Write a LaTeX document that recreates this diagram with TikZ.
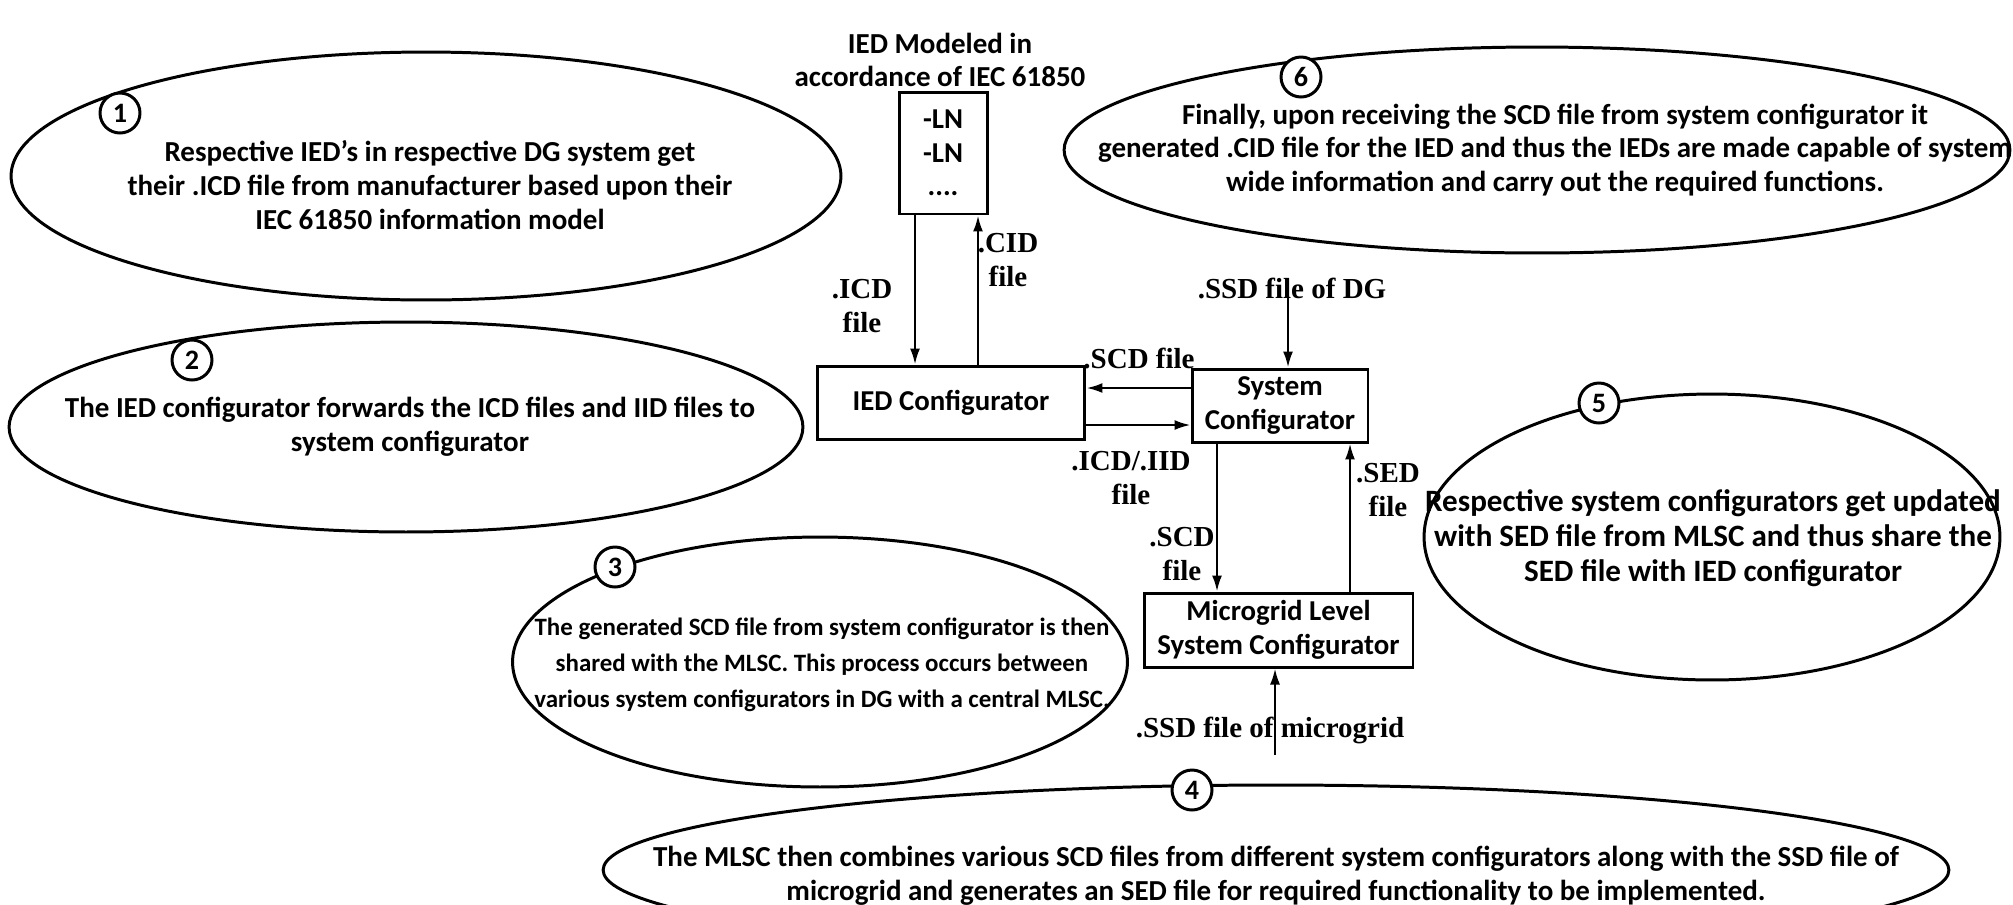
\documentclass[tikz,border=0pt]{standalone}
\usepackage{fontspec}
\setmainfont{Carlito}
\newfontfamily\tnrfont{Liberation Serif}
\usetikzlibrary{arrows.meta,shapes.geometric}

\tikzset{
  bubble/.style={draw, line width=1.7pt, ellipse, inner sep=0pt},
  btxt/.style={align=center, inner sep=0pt, font=\fontsize{16.5}{19.2}\selectfont\bfseries},
  num/.style={draw, circle, line width=1.7pt, fill=white, minimum size=0.8cm, inner sep=0pt, font=\fontsize{16}{18}\selectfont\bfseries},
  blk/.style={draw, line width=1.7pt, fill=white, align=center, inner sep=0pt, font=\fontsize{16.4}{19.2}\selectfont\bfseries},
  flbl/.style={align=center, inner sep=0pt, font=\fontsize{16.5}{19.5}\selectfont\tnrfont\bfseries},
  arr/.style={line width=1.3pt, -{Latex[length=0.32cm,width=0.2cm]}}
}

\begin{document}
\begin{tikzpicture}[x=0.02cm, y=-0.02cm]
\useasboundingbox (0,0) rectangle (2013,904);
\clip (0,0) rectangle (2013,904);

\node[bubble, minimum width=16.6cm, minimum height=4.96cm] (e1) at (426,176) {};
\node[bubble, minimum width=15.88cm, minimum height=4.2cm] (e2) at (406,427) {};
\node[bubble, minimum width=12.3cm, minimum height=5cm] (e3) at (820,662) {};
\node[bubble, minimum width=26.92cm, minimum height=3.4cm] (e4) at (1276,870) {};
\node[bubble, minimum width=11.52cm, minimum height=5.72cm] (e5) at (1712,537) {};
\node[bubble, minimum width=18.92cm, minimum height=4.12cm] (e6) at (1537,150) {};

\node[btxt] (t1) at (430,185) {Respective IED’s in respective DG system get\\their .ICD file from manufacturer based upon their\\IEC 61850 information model};
\node[btxt] (t2) at (410,427) {The IED configurator forwards the ICD files and IID files to\\system configurator};
\node[btxt, font=\fontsize{14.2}{20.5}\selectfont\bfseries] (t3) at (822,665) {The generated SCD file from system configurator is then\\shared with the MLSC. This process occurs between\\various system configurators in DG with a central MLSC.};
\node[btxt] (t4) at (1276,876) {The MLSC then combines various SCD files from different system configurators along with the SSD file of\\microgrid and generates an SED file for required functionality to be implemented.};
\node[btxt, font=\fontsize{17.7}{19.8}\selectfont\bfseries] (t5) at (1713,538) {Respective system configurators get updated\\with SED file from MLSC and thus share the\\SED file with IED configurator};
\node[btxt] (t6) at (1555,150) {Finally, upon receiving the SCD file from system configurator it\\generated .CID file for the IED and thus the IEDs are made capable of system\\wide information and carry out the required functions.};

\node[num] (n1) at (120,113) {1};
\node[num] (n2) at (192,360) {2};
\node[num] (n3) at (615,567) {3};
\node[num] (n4) at (1192,790) {4};
\node[num] (n5) at (1599,403) {5};
\node[num] (n6) at (1301,77) {6};

\node[btxt] (ttl) at (940,60) {IED Modeled in\\accordance of IEC 61850};
\node[blk, minimum width=1.76cm, minimum height=2.44cm] (lnbox) at (943,153) {-LN\\-LN\\....};
\node[blk, minimum width=5.36cm, minimum height=1.46cm] (iedcfg) at (951,402.5) {IED Configurator};
\node[blk, minimum width=3.52cm, minimum height=1.46cm] (syscfg) at (1280,405.5) {System\\Configurator};
\node[blk, minimum width=5.38cm, minimum height=1.48cm] (mlsc) at (1278.5,630) {Microgrid Level\\System Configurator};

\node[flbl] (licd) at (862,306) {.ICD\\file};
\node[flbl] (lcid) at (1008,260) {.CID\\file};
\node[flbl] (lscd) at (1139,358) {.SCD file};
\node[flbl] (liid) at (1131,478) {.ICD/.IID\\file};
\node[flbl] (lssd) at (1292,288) {.SSD file of DG};
\node[flbl] (lscd2) at (1182,554) {.SCD\\file};
\node[flbl] (lsed) at (1388,490) {.SED\\file};
\node[flbl] (lmg) at (1270,730) {.SSD file of microgrid};

\coordinate (xicd) at (915,0);
\coordinate (xcid) at (978,0);
\coordinate (yscd) at (0,388);
\coordinate (yiid) at (0,425);
\coordinate (dgtop) at (1288,296);
\coordinate (xdown) at (1217,0);
\coordinate (xsed) at (1350,0);
\coordinate (mgfoot) at (1275,755);

\draw[arr] (lnbox.south -| xicd) -- (iedcfg.north -| xicd);
\draw[arr] (iedcfg.north -| xcid) -- (lnbox.south -| xcid);
\draw[arr] (syscfg.west |- yscd) -- (iedcfg.east |- yscd);
\draw[arr] (iedcfg.east |- yiid) -- (syscfg.west |- yiid);
\draw[arr] (dgtop) -- (syscfg.north -| dgtop);
\draw[arr] (syscfg.south -| xdown) -- (mlsc.north -| xdown);
\draw[arr] (mlsc.north -| xsed) -- (syscfg.south -| xsed);
\draw[arr] (mgfoot) -- (mlsc.south -| mgfoot);
\end{tikzpicture}
\end{document}
